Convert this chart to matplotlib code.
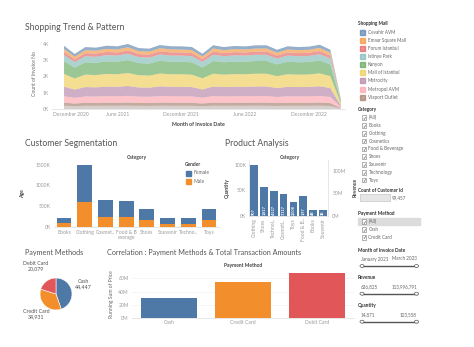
import matplotlib
matplotlib.use("Agg")
import matplotlib.pyplot as plt
from matplotlib.patches import Rectangle, Circle
from matplotlib.lines import Line2D

plt.rcParams['font.family'] = ['Lato', 'DejaVu Sans']

W, H = 474, 347
fig = plt.figure(figsize=(W / 100, H / 100), dpi=100)
fig.patch.set_facecolor('white')

GREY = '#666666'
LIGHT = '#999999'
BLUE, ORANGE, RED = '#4e79a7', '#f28e2b', '#e15759'

# ---- data ----
months = list(range(27))  # Jan 2021 .. Mar 2023
month_ticks = [-1, 5, 11, 17, 23]
month_tick_labels = ['December 2020', 'June 2021', 'December 2021', 'June 2022', 'December 2022']

malls = ['Cevahir AVM', 'Emaar Square Mall', 'Forum Istanbul', 'Istinye Park', 'Kanyon',
         'Mall of Istanbul', 'Metrocity', 'Metropol AVM', 'Viaport Outlet', 'Zorlu Center']
mall_colors = ['#4e79a7', '#f28e2b', '#e15759', '#76b7b2', '#59a14f',
               '#edc948', '#b07aa1', '#ff9da7', '#9c755f', '#bab0ac']

cevahir = [195, 169, 191, 189, 195, 193, 200, 188, 186, 197, 193, 193, 191, 170, 196, 191, 194, 193, 196, 196, 182, 193, 191, 192, 198, 182, 30]
emaar = [187, 162, 183, 181, 187, 185, 192, 180, 178, 189, 185, 185, 183, 163, 188, 183, 186, 185, 188, 188, 175, 185, 183, 184, 190, 175, 29]
forum = [192, 171, 188, 192, 196, 190, 203, 185, 189, 195, 196, 190, 193, 168, 199, 188, 197, 190, 194, 199, 180, 195, 189, 194, 196, 185, 31]
istinye = [382, 332, 374, 370, 382, 378, 392, 368, 364, 386, 378, 378, 374, 333, 384, 374, 380, 378, 384, 384, 358, 378, 374, 376, 388, 358, 59]
kanyon = [775, 674, 759, 751, 775, 768, 796, 747, 738, 784, 768, 768, 759, 677, 780, 759, 772, 768, 780, 780, 726, 768, 759, 763, 787, 726, 119]
mall_of_ist = [779, 677, 763, 754, 779, 772, 800, 751, 742, 788, 772, 772, 763, 681, 784, 763, 775, 772, 784, 784, 730, 772, 763, 767, 791, 730, 119]
metrocity = [588, 511, 576, 570, 588, 583, 604, 567, 560, 595, 583, 583, 576, 514, 592, 576, 585, 583, 592, 592, 551, 583, 576, 579, 598, 551, 90]
metropol = [397, 345, 389, 385, 397, 394, 408, 383, 379, 402, 394, 394, 389, 347, 400, 389, 395, 394, 400, 400, 372, 394, 389, 391, 404, 372, 61]
viaport = [191, 166, 187, 185, 191, 189, 196, 184, 182, 193, 189, 189, 187, 167, 192, 187, 190, 189, 192, 192, 179, 189, 187, 188, 194, 179, 29]
zorlu = [199, 173, 195, 192, 199, 197, 204, 191, 189, 201, 197, 197, 195, 174, 200, 195, 198, 197, 200, 200, 186, 197, 195, 196, 202, 186, 30]

seg_cats = ['Books', 'Clothing', 'Cosmet..', 'Food & B\neverage', 'Shoes', 'Souvenir', 'Techno..', 'Toys']
age_female = [130, 905, 400, 385, 262, 125, 125, 262]  # thousands
age_male = [85, 595, 250, 245, 170, 80, 80, 170]

prod_cats = ['Clothing', 'Shoes', 'Technol..', 'Cosmeti..', 'Toys', 'Food & B..', 'Books', 'Souvenir']
prod_qty = [101, 57, 49, 42, 26, 39, 10, 10]  # thousands
prod_labels = ['907', '1,817', '4,527', '7,117', '2,008', '1,97', '48', '38']

pay_methods = ['Cash', 'Credit Card', 'Debit Card']
pay_counts = [44447, 34931, 20079]
pay_running = [30, 54, 69]  # millions


def add_ax(l, t, r, b):
    return fig.add_axes([l / W, 1 - b / H, (r - l) / W, (b - t) / H])


def ftext(x, y, s, **kw):
    kw.setdefault('va', 'center')
    kw.setdefault('color', GREY)
    return fig.text(x / W, 1 - y / H, s, **kw)


def tidy(ax):
    for s in ['top', 'right']:
        ax.spines[s].set_visible(False)
    for s in ['left', 'bottom']:
        ax.spines[s].set_color('#dddddd')
        ax.spines[s].set_linewidth(0.5)
    ax.tick_params(length=0, labelsize=3.6, colors=LIGHT, pad=2)


# ---- Shopping Trend & Pattern ----
ftext(25, 28, 'Shopping Trend & Pattern', fontsize=6.2, color='#555555')
ax1 = add_ax(52, 39, 345, 109)
layers = [zorlu, viaport, metropol, metrocity, mall_of_ist, kanyon, istinye, forum, emaar, cevahir]
layer_cols = mall_colors[::-1]
ax1.stackplot(months, layers, colors=layer_cols, alpha=0.6, linewidth=0)
ax1.set_xlim(-1.13, 26.38)
ax1.set_ylim(0, 4300)
ax1.set_yticks([0, 1000, 2000, 3000, 4000])
ax1.set_yticklabels(['0K', '1K', '2K', '3K', '4K'])
ax1.set_xticks(month_ticks)
ax1.set_xticklabels(month_tick_labels)
ax1.get_xticklabels()[0].set_ha('left')
tidy(ax1)
ax1.spines['left'].set_visible(False)
ax1.set_ylabel('Count of Invoice No', fontsize=3.6, color=GREY, labelpad=4)
ax1.set_xlabel('Month of Invoice Date', fontsize=3.8, color='#444444', fontweight='bold', labelpad=4)

# ---- Customer Segmentation ----
ftext(25, 144, 'Customer Segmentation', fontsize=6.2, color='#555555')
ftext(137, 158, 'Category', fontsize=3.6, color='#444444', fontweight='bold', ha='center')
ax2 = add_ax(53.6, 160.4, 219.4, 227)
xs = range(len(seg_cats))
ax2.bar(xs, age_male, width=0.72, color=ORANGE)
ax2.bar(xs, age_female, width=0.72, bottom=age_male, color=BLUE)
ax2.set_xlim(-0.5, len(seg_cats) - 0.5)
ax2.set_ylim(0, 1600)
ax2.set_yticks([0, 500, 1000, 1500])
ax2.set_yticklabels(['0K', '500K', '1000K', '1500K'])
ax2.set_xticks(list(xs))
ax2.set_xticklabels(seg_cats, linespacing=1.0)
tidy(ax2)
ax2.spines['left'].set_visible(False)
ax2.set_ylabel('Age', fontsize=3.6, color='#444444', fontweight='bold', labelpad=8)
ftext(185, 164, 'Gender', fontsize=3.6, color='#444444', fontweight='bold')
for i, (lab, c) in enumerate([('Female', BLUE), ('Male', ORANGE)]):
    yy = 173 + i * 8.5
    fig.patches.append(Rectangle((186 / W, 1 - (yy + 2.5) / H), 5 / W, 5 / H,
                                 color=c, transform=fig.transFigure))
    ftext(194, yy, lab, fontsize=3.6)

# ---- Product Analysis ----
ftext(225, 144, 'Product Analysis', fontsize=6.2, color='#555555')
ftext(290, 158, 'Category', fontsize=3.6, color='#444444', fontweight='bold', ha='center')
ax3 = add_ax(249, 160, 328, 215.5)
px = range(len(prod_cats))
bars = ax3.bar(px, prod_qty, width=0.78, color=BLUE)
for b, lab in zip(bars, prod_labels):
    ax3.text(b.get_x() + b.get_width() / 2, 1, lab, rotation=90, ha='center', va='bottom',
             fontsize=2.8, color='white', fontweight='bold')
ax3.set_xlim(-0.5, len(prod_cats) - 0.5)
ax3.set_ylim(0, 110)
ax3.set_yticks([0, 50, 100])
ax3.set_yticklabels(['0K', '50K', '100K'])
ax3.set_xticks(list(px))
ax3.set_xticklabels(prod_cats, rotation=90)
tidy(ax3)
ax3.set_ylabel('Quantity', fontsize=3.6, color='#444444', fontweight='bold', labelpad=3)
ax3r = ax3.twinx()
ax3r.set_ylim(0, 125)
ax3r.set_yticks([0, 50, 100])
ax3r.set_yticklabels(['0M', '50M', '100M'])
for s in ['top', 'left', 'bottom']:
    ax3r.spines[s].set_visible(False)
ax3r.spines['right'].set_color('#dddddd')
ax3r.spines['right'].set_linewidth(0.5)
ax3r.tick_params(length=0, labelsize=3.6, colors=LIGHT, pad=3)
ax3r.set_ylabel('Revenue', fontsize=3.6, color='#444444', fontweight='bold', labelpad=5)

# ---- Payment Methods pie ----
ftext(25, 253, 'Payment Methods', fontsize=5.2, color='#555555')
ax4 = add_ax(40, 278, 72, 310)
ax4.pie(pay_counts, colors=[BLUE, ORANGE, RED], startangle=90, counterclock=False,
        wedgeprops=dict(linewidth=0.4, edgecolor='white'))
ax4.set_xlim(-1, 1)
ax4.set_ylim(-1, 1)
ax4.set_aspect('equal')
ftext(36, 266, 'Debit Card\n20,079', fontsize=3.8, color='#555555', ha='center', linespacing=1.1)
ftext(83, 284, 'Cash\n44,447', fontsize=3.8, color='#555555', ha='center', linespacing=1.1)
ftext(36, 314, 'Credit Card\n34,931', fontsize=3.8, color='#555555', ha='center', linespacing=1.1)

# ---- Correlation bars ----
ftext(107, 253, 'Correlation : Payment Methods & Total Transaction Amounts', fontsize=5.2, color='#555555')
ftext(243, 266, 'Payment Method', fontsize=3.6, color='#444444', fontweight='bold', ha='center')
ax5 = add_ax(131.7, 270, 354, 317.7)
ax5.bar(range(3), pay_running, width=0.75, color=[BLUE, ORANGE, RED])
ax5.set_xlim(-0.5, 2.5)
ax5.set_ylim(0, 73)
ax5.set_yticks([0, 20, 40, 60])
ax5.set_yticklabels(['0M', '20M', '40M', '60M'])
ax5.set_xticks(range(3))
ax5.set_xticklabels(pay_methods)
ax5.yaxis.grid(True, color='#f2f2f2', linewidth=0.5)
ax5.set_axisbelow(True)
tidy(ax5)
ax5.spines['left'].set_visible(False)
ax5.set_ylabel('Running Sum of Price', fontsize=3.6, color=GREY, labelpad=3)

# ---- Sidebar ----
BOLD = dict(fontsize=3.4, color='#333333', fontweight='bold')
SM = dict(fontsize=3.3, color=GREY)
ftext(358, 24, 'Shopping Mall', **BOLD)
for i, (m, c) in enumerate(zip(malls, mall_colors)):
    yy = 32.3 + i * 8.1
    if yy > 104:
        break
    fig.patches.append(Rectangle((360 / W, 1 - (yy + 2.5) / H), 5 / W, 5 / H, color=c, alpha=0.65,
                                 transform=fig.transFigure))
    ftext(367.5, yy, m, **SM)


def checkbox(y, label, shade=False):
    if shade:
        fig.patches.append(Rectangle((358 / W, 1 - (y + 3.6) / H), 62 / W, 7.2 / H, color='#dcdcdc',
                                     transform=fig.transFigure, zorder=0))
    fig.patches.append(Rectangle((361.5 / W, 1 - (y + 2.3) / H), 4.6 / W, 4.6 / H, facecolor='white',
                                 edgecolor='#777777', linewidth=0.4, transform=fig.transFigure))
    ftext(363.8, y, '\u2713', fontsize=3.4, color='#333333', ha='center', family=['DejaVu Sans'])
    ftext(368.5, y, label, **SM)


ftext(358, 109.3, 'Category', **BOLD)
cat_filters = ['(All)', 'Books', 'Clothing', 'Cosmetics', 'Food & Beverage', 'Shoes', 'Souvenir',
               'Technology', 'Toys']
for i, lab in enumerate(cat_filters):
    checkbox(117.7 + i * 7.8, lab)

ftext(358, 191, 'Count of Customer Id', **BOLD)
fig.patches.append(Rectangle((360 / W, 1 - 200.5 / H), 30 / W, 6.5 / H, facecolor='#e6e6e6',
                             edgecolor='#bbbbbb', linewidth=0.4, transform=fig.transFigure))
ftext(392, 197.3, '99,457', **SM)

ftext(358, 213.3, 'Payment Method', **BOLD)
checkbox(221.7, '(All)', shade=True)
checkbox(229.4, 'Cash')
checkbox(237.2, 'Credit Card')


def slider(y_title, title, lo, hi):
    ftext(358, y_title, title, **BOLD)
    ftext(361, y_title + 9, lo, **SM)
    ftext(417, y_title + 9, hi, ha='right', **SM)
    yl = y_title + 16
    fig.lines.append(Line2D([362 / W, 416.5 / W], [1 - yl / H, 1 - yl / H], color='#555555',
                            linewidth=1.0, transform=fig.transFigure))
    for xx in (362, 416.5):
        fig.patches.append(Circle((xx / W, 1 - yl / H), 2.0 / W, facecolor='white', edgecolor='#555555',
                                  linewidth=0.5, transform=fig.transFigure, zorder=5))


slider(250, 'Month of Invoice Date', 'January 2021', 'March 2023')
slider(277.7, 'Revenue', '636,825', '113,996,791')
slider(305.7, 'Quantity', '14,871', '103,558')

fig.savefig('out.png', dpi=100)
